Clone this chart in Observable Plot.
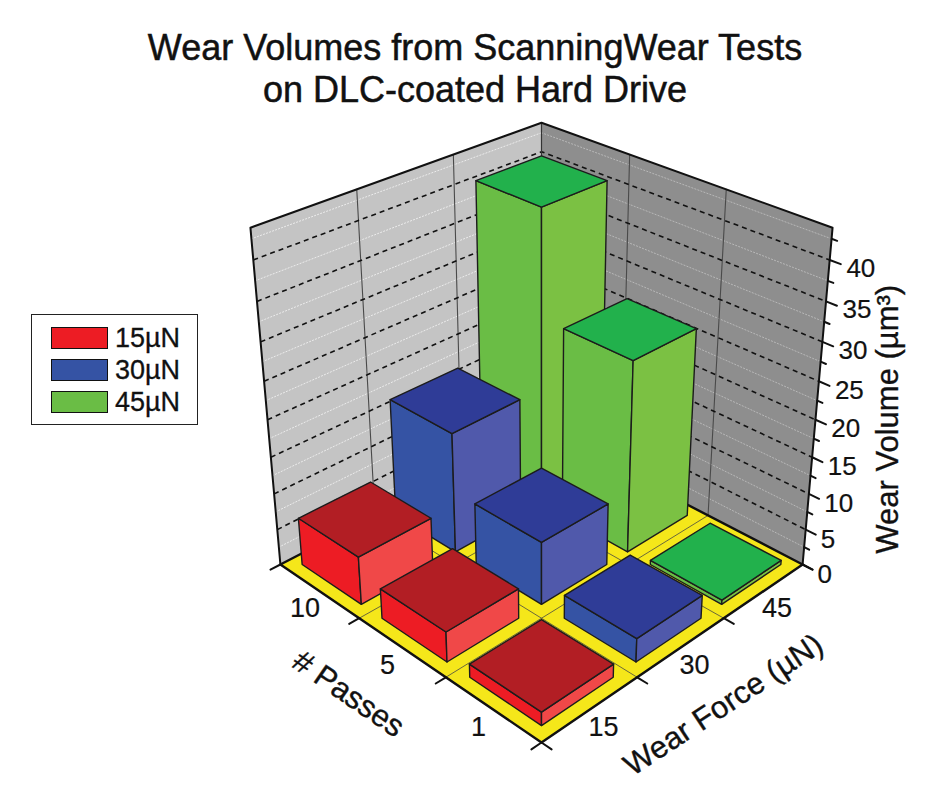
<!DOCTYPE html>
<html><head><meta charset="utf-8">
<script src="https://cdn.jsdelivr.net/npm/d3@7"></script>
<script src="https://cdn.jsdelivr.net/npm/@observablehq/plot@0.6"></script>
<style>
body{margin:0;background:#fff;font-family:"Liberation Sans",Arial,sans-serif;color:#111;}
#wrap{position:relative;width:950px;height:794px;overflow:hidden;}
#title{box-sizing:border-box;height:112px;padding-top:27px;text-align:center;font-size:36px;line-height:42px;-webkit-text-stroke:0.5px #111;}
#legend{position:absolute;left:31px;top:314px;width:167px;height:111px;box-sizing:border-box;border:1.5px solid #222;background:#fff;}
.row{position:absolute;left:19px;height:22px;display:flex;align-items:center;}
.sw{width:55px;height:20px;border:1.5px solid #111;box-sizing:content-box;}
.lab{margin-left:7px;font-size:27px;-webkit-text-stroke:0.3px #111;}
</style></head>
<body>
<div id="wrap">
<div id="title">Wear Volumes from ScanningWear Tests<br>on DLC-coated Hard Drive</div>
<div id="chart"></div>
<div id="legend"></div>
</div>
<script>
// ---- data ----
const forces = [15, 30, 45];            // Wear Force (µN)
const passes = [1, 5, 10];              // # Passes
const wear15 = [1.8, 4.1, 6.6];         // volume at 15 µN for passes 1,5,10
const wear30 = [3.2, 8.6, 16.6];        // volume at 30 µN
const wear45 = [0.6, 26.2, 40.5];       // volume at 45 µN
const legendLabels = ["15µN", "30µN", "45µN"];
const volumeTicks = [0, 5, 10, 15, 20, 25, 30, 35, 40];
const volumeMinor = [2.5, 7.5, 12.5, 17.5, 22.5, 27.5, 32.5, 37.5, 42.5];
const volumeTop = 43.8;
const topColors = ["#b21e24", "#2f3c97", "#22b14c"];
const leftColors = ["#ed1c24", "#3553a4", "#6abd45"];
const rightColors = ["#f04848", "#5059ab", "#7bc143"];

const series = [wear15, wear30, wear45];
const table = forces.flatMap((f, i) => passes.map((p, j) => ({force: f, passes: p, volume: series[i][j], fi: i})));

// ---- 3D scales & camera ----
const uBand = d3.scaleBand(forces, [0, 3]).paddingInner(0.25).paddingOuter(0.125);
const vBand = d3.scaleBand(passes, [0, 3]).paddingInner(0.25).paddingOuter(0.125);
const uCell = d3.scaleBand(forces, [0, 3]);
const vCell = d3.scaleBand(passes, [0, 3]);
const hScale = d3.scaleLinear([0, volumeTop], [0, 2.592]);
const EL = 31.9 * Math.PI / 180, S = Math.sin(EL), C = Math.cos(EL);
const DIST = 13.3, FX = 1637, FY = 1826, CX = 541, CY = 564;
function project(u, v, w) {
  const du = u - 1.5, dv = v - 1.5;
  const p = (du + dv) / Math.SQRT2, q = (du - dv) / Math.SQRT2;
  const depth = DIST + C * p - S * w;
  return [CX + FX * q / depth, CY - FY * (S * p + C * w) / depth];
}
function poly(id, pts, fill) {
  return pts.map(([u, v, w]) => { const [x, y] = project(u, v, w); return {id, x, y, fill}; });
}
const W3 = hScale(volumeTop);

// walls
const walls = [
  ...poly("L", [[0,3,0],[3,3,0],[3,3,W3],[0,3,W3]], "#c4c4c4"),
  ...poly("R", [[3,3,0],[3,0,0],[3,0,W3],[3,3,W3]], "#8e8e8e")
];
const minorLeft = volumeMinor.flatMap((d, k) => poly("ml" + k, [[0,3,hScale(d)],[3,3,hScale(d)]]));
const minorRight = volumeMinor.flatMap((d, k) => poly("mr" + k, [[3,3,hScale(d)],[3,0,hScale(d)]]));
const majorGrid = volumeTicks.filter(d => d > 0).flatMap((d, k) => poly("g" + k, [[0,3,hScale(d)],[3,3,hScale(d)],[3,0,hScale(d)]]));
const wallVert = [1, 2].flatMap(k => [...poly("wl" + k, [[k,3,0],[k,3,W3]]), ...poly("wr" + k, [[3,k,0],[3,k,W3]])]);
const wallTop = poly("top", [[0,3,0],[0,3,W3],[3,3,W3],[3,0,W3],[3,0,0]]);
const backEdge = poly("back", [[3,3,0],[3,3,W3]]);

// floor
const floor = poly("F", [[0,0,0],[3,0,0],[3,3,0],[0,3,0]], "#f5e71a");
const floorGrid = [1, 2].flatMap(k => [...poly("fu" + k, [[k,0,0],[k,3,0]]), ...poly("fv" + k, [[0,k,0],[3,k,0]])]);
const floorTicks = [0, 1, 2, 3].flatMap(k => [...poly("tu" + k, [[k,0,0],[k,-0.1,0]]), ...poly("tv" + k, [[0,k,0],[-0.1,k,0]])]);
const zTicks = [
  ...volumeTicks.flatMap((d, k) => poly("zt" + k, [[3,0,hScale(d)],[3,-0.1,hScale(d)]])),
  ...volumeMinor.flatMap((d, k) => poly("zm" + k, [[3,0,hScale(d)],[3,-0.05,hScale(d)]]))
];

// bars (painter's order: far to near)
const bars = table.map(d => {
  const u0 = uBand(d.force), u1 = u0 + uBand.bandwidth();
  const v0 = vBand(d.passes), v1 = v0 + vBand.bandwidth();
  return {...d, u0, u1, v0, v1, h: hScale(d.volume)};
}).sort((a, b) => (b.u0 + b.v0) - (a.u0 + a.v0));
const faces = bars.flatMap((b, k) => [
  ...poly("b" + k + "l", [[b.u0,b.v0,0],[b.u0,b.v1,0],[b.u0,b.v1,b.h],[b.u0,b.v0,b.h]], leftColors[b.fi]),
  ...poly("b" + k + "r", [[b.u0,b.v0,0],[b.u1,b.v0,0],[b.u1,b.v0,b.h],[b.u0,b.v0,b.h]], rightColors[b.fi]),
  ...poly("b" + k + "t", [[b.u0,b.v0,b.h],[b.u1,b.v0,b.h],[b.u1,b.v1,b.h],[b.u0,b.v1,b.h]], topColors[b.fi])
]);

const TOP = 112, WID = 950, HGT = 794;
const fam = '"Liberation Sans", Arial, sans-serif';
const zMid = project(3, 0, hScale(volumeTop / 2));
const pMid = project(0, vCell(5) + 0.5, 0);
const fMid = project(uCell(30) + 0.5, 0, 0);
const txt = {fill: "#111", stroke: "#111", strokeWidth: 0.35};

const chart = Plot.plot({
  width: WID, height: HGT - TOP, margin: 0,
  x: {domain: [0, WID], range: [0, WID], axis: null},
  y: {domain: [TOP, HGT], range: [0, HGT - TOP], axis: null},
  color: {type: "identity"},
  style: {fontFamily: fam, color: "#111", background: "transparent"},
  marks: [
    Plot.line(walls, {x: "x", y: "y", z: "id", fill: "fill", stroke: "none", curve: "linear-closed"}),
    Plot.line(minorLeft, {x: "x", y: "y", z: "id", stroke: "#ececec", strokeWidth: 1, strokeDasharray: "1.2,2"}),
    Plot.line(minorRight, {x: "x", y: "y", z: "id", stroke: "#b8b8b8", strokeWidth: 1, strokeDasharray: "1.2,2"}),
    Plot.line(wallVert, {x: "x", y: "y", z: "id", stroke: "#4a4a4a", strokeWidth: 1.1}),
    Plot.line(majorGrid, {x: "x", y: "y", z: "id", stroke: "#111", strokeWidth: 1.6, strokeDasharray: "5,4", strokeLinecap: "butt"}),
    Plot.line(backEdge, {x: "x", y: "y", z: "id", stroke: "#333", strokeWidth: 1.2}),
    Plot.line(wallTop, {x: "x", y: "y", z: "id", stroke: "#111", strokeWidth: 2}),
    Plot.line(floor, {x: "x", y: "y", z: "id", fill: "fill", stroke: "none", curve: "linear-closed"}),
    Plot.line(floorGrid, {x: "x", y: "y", z: "id", stroke: "#5a5a40", strokeWidth: 0.9}),
    Plot.line(floor, {x: "x", y: "y", z: "id", stroke: "#111", strokeWidth: 2.4, curve: "linear-closed"}),
    Plot.line(floorTicks, {x: "x", y: "y", z: "id", stroke: "#111", strokeWidth: 2}),
    Plot.line(zTicks, {x: "x", y: "y", z: "id", stroke: "#111", strokeWidth: 2}),
    Plot.line(faces, {x: "x", y: "y", z: "id", fill: "fill", stroke: "#1c1c1c", strokeWidth: 1.4, curve: "linear-closed"}),
    Plot.text(volumeTicks, {x: d => project(3, -0.15, hScale(d))[0], y: d => project(3, -0.15, hScale(d))[1], text: d => String(d), textAnchor: "start", dy: 2, fontSize: 26, ...txt, strokeWidth: 0.2}),
    Plot.text(passes, {x: d => project(0, vCell(d) + 0.5, 0)[0], y: d => project(0, vCell(d) + 0.5, 0)[1], text: d => String(d), dx: -14, dy: 18, fontSize: 27, ...txt, strokeWidth: 0.2}),
    Plot.text(forces, {x: d => project(uCell(d) + 0.5, 0, 0)[0], y: d => project(uCell(d) + 0.5, 0, 0)[1], text: d => String(d), dx: 13, dy: 18, fontSize: 27, ...txt, strokeWidth: 0.2}),
    Plot.text(["Wear Volume (µm³)"], {x: () => zMid[0], y: () => zMid[1], text: d => d, dx: 71, dy: 14, rotate: -90, fontSize: 31, ...txt}),
    Plot.text(["# Passes"], {x: () => pMid[0], y: () => pMid[1], text: d => d, dx: -53, dy: 47, rotate: 34.6, fontSize: 31, ...txt}),
    Plot.text(["Wear Force (µN)"], {x: () => fMid[0], y: () => fMid[1], text: d => d, dx: 42, dy: 58, rotate: -33.4, fontSize: 31, ...txt})
  ]
});
document.getElementById("chart").appendChild(chart);

// legend
const lg = document.getElementById("legend");
legendLabels.forEach((t, i) => {
  const r = document.createElement("div");
  r.className = "row";
  r.style.top = (12 + i * 32) + "px";
  r.innerHTML = `<div class="sw" style="background:${leftColors[i]}"></div><span class="lab">${t}</span>`;
  lg.appendChild(r);
});
</script>
</body></html>
